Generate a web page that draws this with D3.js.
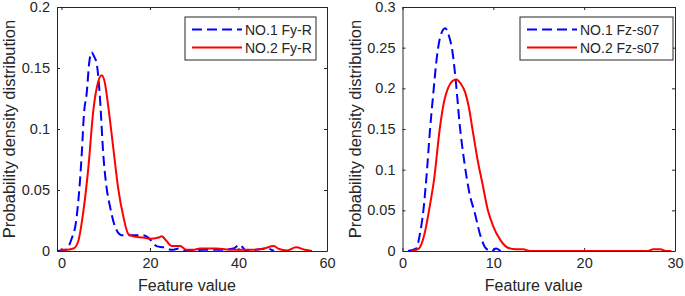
<html>
<head>
<style>
  body { margin: 0; background: #fff; }
  text { font-family: "Liberation Sans", Arial, sans-serif; fill: #262626; }
</style>
</head>
<body>
<svg id="chart" width="685" height="296"></svg>
<script src="https://d3js.org/d3.v7.min.js"></script>
<script>
    // left panel: Fy-R
    let fyTicksX = [0, 20, 40, 60]
    let fyTicksY = [0, 0.05, 0.1, 0.15, 0.2]
    let fy1X = [-1, 1, 2.3, 3.3, 4.2, 4.6, 5.1, 5.7, 6.3, 6.8, 7.3, 8.0, 8.6, 9.5, 10.2, 11, 12.1, 13.6, 16, 18.5, 19.6, 21.5, 23, 25, 26.5, 28, 32, 36, 38.8, 40.3, 41.8, 44, 46.5, 48]
    let fy1Y = [0, 0.001, 0.010, 0.024, 0.058, 0.080, 0.113, 0.129, 0.155, 0.163, 0.160, 0.153, 0.131, 0.077, 0.052, 0.036, 0.020, 0.013, 0.013, 0.013, 0.011, 0.004, 0.003, 0.001, 0.002, 0, 0.001, 0.001, 0.002, 0.005, 0, 0.001, 0.002, 0]
    let fy2X = [-0.3, 1, 2.7, 3.8, 4.9, 6.1, 7.2, 8.0, 9.1, 9.8, 10.6, 11.7, 12.8, 14, 15.1, 16.2, 18.5, 20, 21.9, 22.6, 23.8, 24.9, 26.8, 28.3, 29.7, 31.3, 35, 38.8, 43.3, 45.6, 48, 49, 51, 53, 55, 56.6]
    let fy2Y = [0.001, 0.001, 0.002, 0.008, 0.031, 0.069, 0.115, 0.134, 0.144, 0.138, 0.118, 0.085, 0.052, 0.028, 0.014, 0.012, 0.011, 0.010, 0.011, 0.012, 0.008, 0.004, 0.004, 0.001, 0.001, 0.002, 0.002, 0.001, 0.001, 0.002, 0.004, 0.002, 0.0005, 0.003, 0.001, 0]

    // right panel: Fz-s07
    let fzTicksX = [0, 10, 20, 30]
    let fzTicksY = [0, 0.05, 0.1, 0.15, 0.2, 0.25, 0.3]
    let fz1X = [0.6, 1.5, 1.9, 2.3, 2.7, 3.0, 3.4, 3.8, 4.2, 4.7, 5.1, 5.5, 5.9, 6.3, 6.8, 7.3, 8.0, 8.6, 9.2, 9.8, 10.3, 10.8]
    let fz1Y = [0, 0.003, 0.02, 0.05, 0.1, 0.145, 0.195, 0.24, 0.265, 0.274, 0.265, 0.245, 0.205, 0.155, 0.11, 0.075, 0.045, 0.018, 0.003, 0, 0.003, 0]
    let fz2X = [1.0, 1.8, 2.4, 3.0, 3.5, 4.1, 4.6, 5.0, 5.5, 5.9, 6.4, 6.9, 7.3, 7.7, 8.3, 8.8, 9.4, 10.0, 10.8, 11.6, 12.5, 13.3, 14.0, 20, 27.0, 27.6, 28.4, 29.0, 29.6]
    let fz2Y = [0, 0.003, 0.02, 0.055, 0.09, 0.15, 0.185, 0.2, 0.209, 0.211, 0.206, 0.195, 0.177, 0.15, 0.11, 0.083, 0.05, 0.03, 0.013, 0.004, 0.002, 0.002, 0, 0, 0, 0.002, 0.002, 0, 0]

    let svg = d3.select("#chart")

    function zip(xs, ys) {
        return xs.map((x, i) => [x, ys[i]])
    }

    function drawPanel(opt) {
        let x = d3.scaleLinear().domain(opt.xDomain).range([opt.left, opt.right])
        let y = d3.scaleLinear().domain(opt.yDomain).range([opt.bottom, opt.top])
        let g = svg.append("g")
        let tick = 3

        g.append("clipPath").attr("id", opt.id)
            .append("rect")
            .attr("x", opt.left).attr("y", opt.top)
            .attr("width", opt.right - opt.left).attr("height", opt.bottom - opt.top)

        // axes (MATLAB style: ticks inside, box on)
        let xAxis = d3.axisBottom(x).tickValues(opt.xTicks).tickSizeInner(-tick).tickSizeOuter(0).tickPadding(7)
        let yAxis = d3.axisLeft(y).tickValues(opt.yTicks).tickSizeInner(-tick).tickSizeOuter(0).tickPadding(7)
            .tickFormat(d => d3.format("")(+d.toFixed(2)))
        let xTop = d3.axisTop(x).tickValues(opt.xTicks).tickSizeInner(-tick).tickSizeOuter(0).tickFormat("")
        let yRight = d3.axisRight(y).tickValues(opt.yTicks).tickSizeInner(-tick).tickSizeOuter(0).tickFormat("")

        g.append("g").attr("transform", `translate(0,${opt.bottom})`).call(xAxis)
        g.append("g").attr("transform", `translate(${opt.left},0)`).call(yAxis)
        g.append("g").attr("transform", `translate(0,${opt.top})`).call(xTop)
        g.append("g").attr("transform", `translate(${opt.right},0)`).call(yRight)
        g.selectAll(".domain, .tick line").attr("stroke", "#262626").attr("stroke-width", 1)
        g.selectAll(".tick text").attr("font-size", 14.5).attr("fill", "#262626")
            .attr("font-family", "Liberation Sans, Arial, sans-serif")

        let line = d3.line().x(d => x(d[0])).y(d => y(d[1])).curve(d3.curveMonotoneX)

        g.append("path").datum(zip(opt.s1x, opt.s1y))
            .attr("clip-path", `url(#${opt.id})`)
            .attr("fill", "none").attr("stroke", "#0000ff").attr("stroke-width", 2)
            .attr("stroke-dasharray", "10,5").attr("d", line)
        g.append("path").datum(zip(opt.s2x, opt.s2y))
            .attr("clip-path", `url(#${opt.id})`)
            .attr("fill", "none").attr("stroke", "#ff0000").attr("stroke-width", 2)
            .attr("d", line)

        // axis labels
        g.append("text")
            .attr("x", (opt.left + opt.right) / 2 - 5).attr("y", 291)
            .attr("text-anchor", "middle").attr("font-size", 16)
            .text("Feature value")
        g.append("text")
            .attr("transform", `translate(${opt.ylabelX},${(opt.top + opt.bottom) / 2}) rotate(-90)`)
            .attr("text-anchor", "middle").attr("font-size", 16.5)
            .text("Probability density distribution")

        // legend
        let lg = g.append("g").attr("transform", `translate(${opt.legX},17)`)
        lg.append("rect").attr("width", opt.legW).attr("height", 43)
            .attr("fill", "#fff").attr("stroke", "#262626").attr("stroke-width", 1)
        let names = opt.names
        names.forEach((name, i) => {
            let yy = 12.5 + i * 18
            lg.append("line").attr("x1", 7).attr("x2", 57).attr("y1", yy).attr("y2", yy)
                .attr("stroke", i === 0 ? "#0000ff" : "#ff0000").attr("stroke-width", 2)
                .attr("stroke-dasharray", i === 0 ? "10,5" : null)
            lg.append("text").attr("x", 60).attr("y", yy + 5).attr("font-size", 14).text(name)
        })
    }

    drawPanel({
        id: "clipL", left: 57, right: 327, top: 7, bottom: 251,
        xDomain: [-1, 60], yDomain: [0, 0.2],
        xTicks: fyTicksX, yTicks: fyTicksY,
        s1x: fy1X, s1y: fy1Y, s2x: fy2X, s2y: fy2Y,
        ylabelX: 15, legX: 185, legW: 131,
        names: ["NO.1 Fy-R", "NO.2 Fy-R"]
    })

    drawPanel({
        id: "clipR", left: 402.5, right: 675, top: 7, bottom: 251,
        xDomain: [0, 30], yDomain: [0, 0.3],
        xTicks: fzTicksX, yTicks: fzTicksY,
        s1x: fz1X, s1y: fz1Y, s2x: fz2X, s2y: fz2Y,
        ylabelX: 361, legX: 520, legW: 153,
        names: ["NO.1 Fz-s07", "NO.2 Fz-s07"]
    })
</script>
</body>
</html>
